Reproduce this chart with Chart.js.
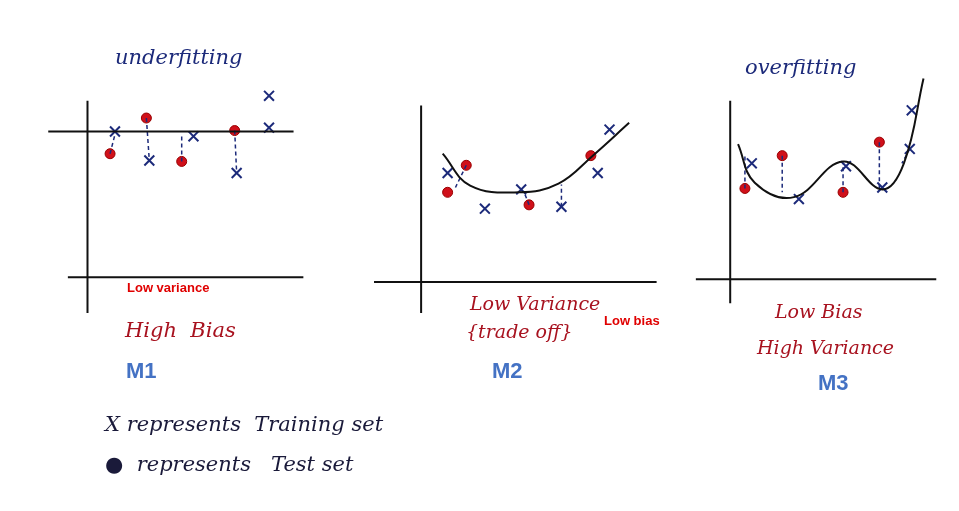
<!DOCTYPE html>
<html><head><meta charset="utf-8">
<script src="https://cdn.jsdelivr.net/npm/chart.js@4"></script>
<style>
body{margin:0;background:#fff;width:959px;height:511px;overflow:hidden;position:relative;font-family:"DejaVu Serif",serif}
canvas{position:absolute;left:0;top:0}
.t{position:absolute;white-space:nowrap;font-style:italic}
.blue{color:#1c2a7a}.red{color:#a8121f}
.m{position:absolute;color:#4472c4;font:bold 22px "Liberation Sans",Arial,sans-serif}
.s{position:absolute;color:#e00000;font:bold 13px "Liberation Sans",Arial,sans-serif}
</style></head><body>
<canvas id="c" width="959" height="511"></canvas>
<div class="t blue" style="left:115px;top:45px;font-size:21px">underfitting</div>
<div class="t blue" style="left:745px;top:55px;font-size:21px">overfitting</div>
<div class="t red" style="left:125px;top:318px;font-size:21px">High&nbsp;&nbsp;Bias</div>
<div class="s" style="left:127px;top:280px">Low variance</div>
<div class="t red" style="left:470px;top:292px;font-size:19px">Low Variance</div>
<div class="t red" style="left:466px;top:320px;font-size:19px">{trade off}</div>
<div class="s" style="left:604px;top:313px">Low bias</div>
<div class="t red" style="left:775px;top:300px;font-size:19px">Low Bias</div>
<div class="t red" style="left:757px;top:336px;font-size:19px">High Variance</div>
<div class="m" style="left:126px;top:358px">M1</div>
<div class="m" style="left:492px;top:358px">M2</div>
<div class="m" style="left:818px;top:370px">M3</div>
<div class="t" style="left:105px;top:412px;font-size:21px;color:#1a1a3a">X represents&nbsp; Training set</div>
<div class="t" style="left:105px;top:452px;font-size:21px;color:#1a1a3a"><span style="font-style:normal">●</span>&nbsp; represents&nbsp;&nbsp; Test set</div>
<script>
// sketch coordinates (x right, y down)
const axes = [
  [[80,95],[80,315]], [[60,278],[300,278]],
  [[420,100],[420,315]], [[372,283],[660,283]],
  [[735,95],[735,305]], [[700,280],[945,280]]
];
const fit1 = [[40,127],[290,127]];
const fit2 = [[442,150],[470,183],[520,190],[560,181],[595,152],[632,118]];
const fit3 = [[743,140],[760,180],[800,195],[850,158],[890,187],[912,160],[932,72]];
const crosses = [[108,127],[143,157],[188,132],[232,170],[265,90],[265,123],
  [447,170],[485,207],[522,187],[563,205],[600,170],[612,125],
  [757,160],[805,197],[853,163],[890,185],[918,145],[920,105]];
const dots = [[103,150],[140,113],[176,158],[230,126],
  [466,162],[447,190],[530,203],[593,152],
  [750,186],[788,152],[850,190],[887,138]];
const errors = [
  [[103,150],[108,130]],[[140,113],[143,157]],[[176,158],[176,130]],[[230,126],[232,170]],
  [[466,162],[455,185]],[[530,203],[525,190]],[[563,205],[563,182]],
  [[750,186],[750,152]],[[788,152],[788,190]],[[850,190],[850,160]],[[887,138],[887,186]],[[918,145],[910,160]]
];
const pt = a => a.map(([x,y]) => ({x,y}));
const lineDs = (d, extra) => Object.assign({data: pt(d), showLine:true, pointRadius:0, borderColor:'#111', borderWidth:2, fill:false}, extra);
const datasets = [];
axes.forEach(a => datasets.push(lineDs(a, {borderWidth:2})));
datasets.push(lineDs(fit1, {}));
datasets.push(lineDs(fit2, {tension:0.4}));
datasets.push(lineDs(fit3, {tension:0.4}));
errors.forEach(e => datasets.push(lineDs(e, {borderDash:[4,3], borderWidth:1.5, borderColor:'#1c2a7a'})));
datasets.push({data: pt(crosses), pointStyle:'crossRot', pointRadius:7, borderColor:'#1c2a7a', borderWidth:2});
datasets.push({data: pt(dots), pointStyle:'circle', pointRadius:5, backgroundColor:'#d0101a', borderColor:'#900', borderWidth:1});
new Chart(document.getElementById('c'), {
  type:'scatter',
  data:{datasets},
  options:{responsive:false, animation:false, layout:{padding:0},
    plugins:{legend:{display:false}, tooltip:{enabled:false}},
    scales:{x:{display:false,min:0,max:959}, y:{display:false,min:0,max:511,reverse:true}}}
});
</script></body></html>
